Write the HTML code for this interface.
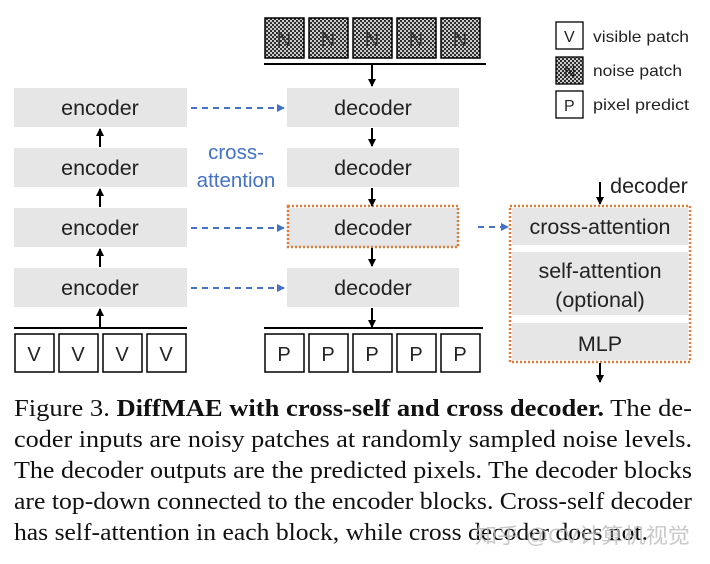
<!DOCTYPE html>
<html><head><meta charset="utf-8"><style>
html,body{margin:0;padding:0;background:#fff;}
svg{display:block;}
</style></head><body>
<svg width="710" height="564" viewBox="0 0 710 564" xmlns="http://www.w3.org/2000/svg">
<defs>
<pattern id="np" width="4" height="4" patternUnits="userSpaceOnUse">
<rect width="4" height="4" fill="#cfcfcf"/>
<circle cx="1" cy="1" r="1.1" fill="#222"/>
<circle cx="3" cy="3" r="1.1" fill="#222"/>
</pattern>
<marker id="ab" markerWidth="8" markerHeight="8" refX="7" refY="4" orient="auto" markerUnits="userSpaceOnUse">
<path d="M0,0 L8,4 L0,8 z" fill="#000"/></marker>
<marker id="abl" markerWidth="8" markerHeight="8" refX="7" refY="4" orient="auto" markerUnits="userSpaceOnUse">
<path d="M0,0 L8,4 L0,8 z" fill="#4472c4"/></marker>
</defs>
<g font-family="Liberation Sans, sans-serif" fill="#222">
<g fill="#e6e6e6">
<rect x="14" y="88" width="173" height="39"/><rect x="14" y="148" width="173" height="39"/>
<rect x="14" y="208" width="173" height="39"/><rect x="14" y="268" width="173" height="39"/>
<rect x="287" y="88" width="172" height="39"/><rect x="287" y="148" width="172" height="39"/>
<rect x="287" y="208" width="172" height="39"/><rect x="287" y="268" width="172" height="39"/>
<rect x="512" y="208" width="176" height="37"/><rect x="512" y="252" width="176" height="63"/>
<rect x="512" y="323" width="176" height="37"/>
</g>
<g font-size="21.5" text-anchor="middle" fill="#222">
<text x="100" y="115">encoder</text><text x="100" y="175">encoder</text>
<text x="100" y="235">encoder</text><text x="100" y="295">encoder</text>
<text x="373" y="115">decoder</text><text x="373" y="175">decoder</text>
<text x="373" y="235">decoder</text><text x="373" y="295">decoder</text>
<text x="600" y="234">cross-attention</text>
<text x="600" y="278">self-attention</text>
<text x="600" y="307">(optional)</text>
<text x="600" y="351">MLP</text>
<text x="649" y="193">decoder</text>
</g>
<rect x="288" y="206" width="170" height="41" fill="none" stroke="#e07b39" stroke-width="2.5" stroke-dasharray="2,2"/>
<rect x="510" y="206" width="180" height="156" fill="none" stroke="#e07b39" stroke-width="2.5" stroke-dasharray="2,2"/>
<g stroke="#000" stroke-width="2" fill="none">
<line x1="100" y1="147" x2="100" y2="129" marker-end="url(#ab)"/>
<line x1="100" y1="207" x2="100" y2="189" marker-end="url(#ab)"/>
<line x1="100" y1="267" x2="100" y2="249" marker-end="url(#ab)"/>
<line x1="100" y1="328" x2="100" y2="309" marker-end="url(#ab)"/>
<line x1="372" y1="65" x2="372" y2="86" marker-end="url(#ab)"/>
<line x1="372" y1="128" x2="372" y2="146" marker-end="url(#ab)"/>
<line x1="372" y1="188" x2="372" y2="206" marker-end="url(#ab)"/>
<line x1="372" y1="248" x2="372" y2="266" marker-end="url(#ab)"/>
<line x1="372" y1="308" x2="372" y2="327" marker-end="url(#ab)"/>
<line x1="600" y1="182" x2="600" y2="204" marker-end="url(#ab)"/>
<line x1="600" y1="363" x2="600" y2="382" marker-end="url(#ab)"/>
</g>
<line x1="14" y1="328" x2="187" y2="328" stroke="#000" stroke-width="2"/>
<line x1="264" y1="328" x2="483" y2="328" stroke="#000" stroke-width="2"/>
<line x1="264" y1="64" x2="486" y2="64" stroke="#000" stroke-width="2"/>
<g stroke="#4472c4" stroke-width="2" stroke-dasharray="6,5" fill="none">
<line x1="191" y1="108" x2="284" y2="108" marker-end="url(#abl)"/>
<line x1="191" y1="228" x2="284" y2="228" marker-end="url(#abl)"/>
<line x1="191" y1="288" x2="284" y2="288" marker-end="url(#abl)"/>
<line x1="478" y1="227" x2="508" y2="227" marker-end="url(#abl)"/>
</g>
<g font-size="20.5" fill="#4472c4" text-anchor="middle">
<text x="236" y="159">cross-</text><text x="236" y="187">attention</text>
</g>
<g fill="#fff" stroke="#000" stroke-width="1.5">
<rect x="15" y="334" width="39" height="38"/><rect x="59" y="334" width="39" height="38"/>
<rect x="103" y="334" width="39" height="38"/><rect x="147" y="334" width="39" height="38"/>
<rect x="265" y="334" width="39" height="38"/><rect x="309" y="334" width="39" height="38"/>
<rect x="353" y="334" width="39" height="38"/><rect x="397" y="334" width="39" height="38"/>
<rect x="441" y="334" width="39" height="38"/>
</g>
<g font-size="20" text-anchor="middle" fill="#222">
<text x="34" y="361">V</text><text x="78" y="361">V</text><text x="122" y="361">V</text><text x="166" y="361">V</text>
<text x="284" y="361">P</text><text x="328" y="361">P</text><text x="372" y="361">P</text><text x="416" y="361">P</text><text x="460" y="361">P</text>
</g>
<g fill="url(#np)" stroke="#000" stroke-width="1.5">
<rect x="265" y="18" width="39" height="40"/><rect x="309" y="18" width="39" height="40"/>
<rect x="353" y="18" width="39" height="40"/><rect x="397" y="18" width="39" height="40"/>
<rect x="441" y="18" width="39" height="40"/>
</g>
<g font-size="20" text-anchor="middle" fill="#333">
<text x="284" y="46">N</text><text x="328" y="46">N</text><text x="372" y="46">N</text><text x="416" y="46">N</text><text x="460" y="46">N</text>
</g>
<rect x="556" y="22" width="27" height="27" fill="#fff" stroke="#000" stroke-width="1.3"/>
<rect x="556" y="57" width="27" height="27" fill="url(#np)" stroke="#000" stroke-width="1.3"/>
<rect x="556" y="91" width="27" height="27" fill="#fff" stroke="#000" stroke-width="1.3"/>
<g font-size="16" fill="#222">
<text x="564" y="42">V</text><text x="564" y="77">N</text><text x="564" y="111">P</text>
</g>
<g font-size="16" fill="#222">
<text x="593" y="42" textLength="96" lengthAdjust="spacingAndGlyphs">visible patch</text>
<text x="593" y="76" textLength="89" lengthAdjust="spacingAndGlyphs">noise patch</text>
<text x="593" y="110" textLength="96" lengthAdjust="spacingAndGlyphs">pixel predict</text>
</g>
</g>
<g font-family="Liberation Serif, serif" font-size="24" fill="#111">
<text x="14" y="416" textLength="678" lengthAdjust="spacingAndGlyphs">Figure 3. <tspan font-weight="bold">DiffMAE with cross-self and cross decoder.</tspan> The de-</text>
<text x="14" y="447" textLength="678" lengthAdjust="spacingAndGlyphs">coder inputs are noisy patches at randomly sampled noise levels.</text>
<text x="14" y="478" textLength="678" lengthAdjust="spacingAndGlyphs">The decoder outputs are the predicted pixels. The decoder blocks</text>
<text x="14" y="509" textLength="678" lengthAdjust="spacingAndGlyphs">are top-down connected to the encoder blocks. Cross-self decoder</text>
<text x="14" y="540" textLength="634" lengthAdjust="spacingAndGlyphs">has self-attention in each block, while cross decoder does not.</text>
</g>
<text x="475" y="543" textLength="215" lengthAdjust="spacingAndGlyphs" font-family="Liberation Sans, Noto Sans CJK SC, sans-serif" font-size="21" fill="#bbb" opacity="0.8">知乎 @CV计算机视觉</text>
</svg>
</body></html>
